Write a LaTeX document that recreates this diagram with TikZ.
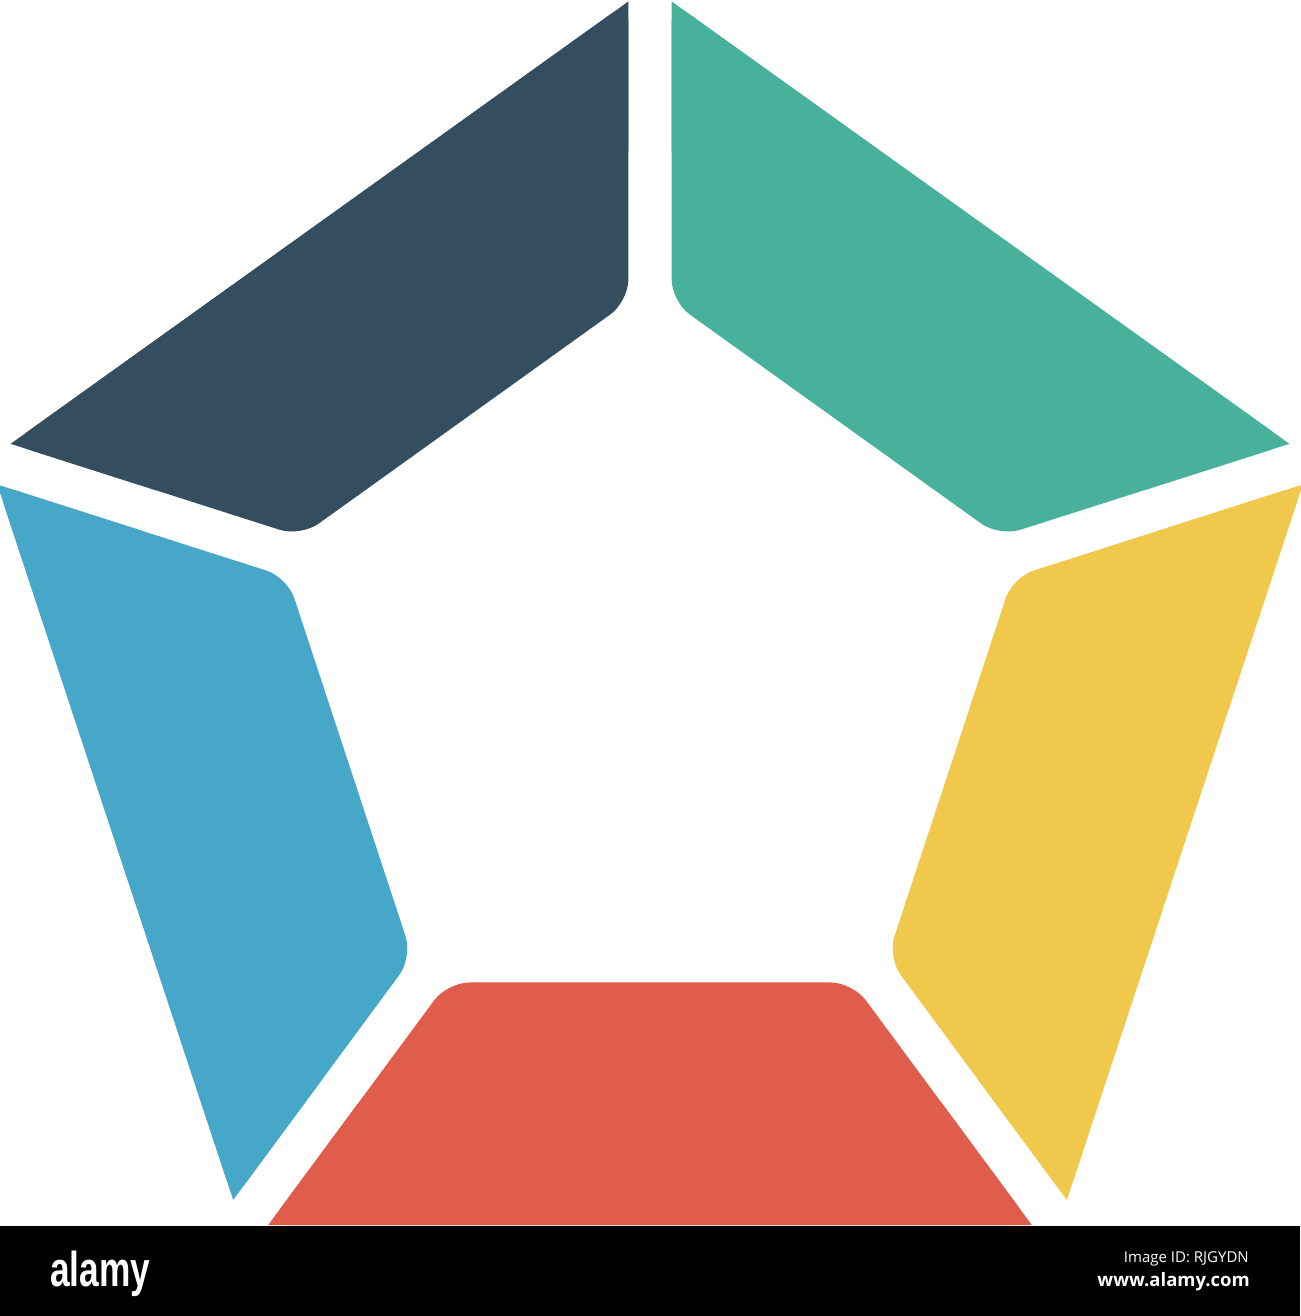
\documentclass[tikz,border=0pt]{standalone}
\usepackage{fontspec}
\setmainfont{Open Sans}
\newfontfamily\logofont{Liberation Sans}
\usetikzlibrary{calc}
\definecolor{slate}{HTML}{344E60}
\definecolor{sea}{HTML}{48B19C}
\definecolor{sky}{HTML}{47A7C9}
\definecolor{sun}{HTML}{F0C94C}
\definecolor{brick}{HTML}{E05C4B}
\newcommand{\cut}{26.6pt}
% one piece of the ring, between vertex #1 and vertex #2
\newcommand{\segment}[3]{\coordinate (oa) at ($(O#1)!\cut!(O#2)$); \coordinate (ob) at ($(O#2)!\cut!(O#1)$);
  \coordinate (ib) at ($(I#2)!\cut!(I#1)$); \coordinate (ia) at ($(I#1)!\cut!(I#2)$);
  \fill[#3,rounded corners=22pt] (oa) -- (ob) -- (ib) -- (ia) -- cycle;
  \fill[#3] (oa) -- (ob) -- ($(ob)!.5!(ib)$) -- ($(oa)!.5!(ia)$) -- cycle;}

\begin{document}
\begin{tikzpicture}[x=1pt,y=1pt]
    \useasboundingbox (0,0) rectangle (1300,1316);
    \coordinate (C) at (650,645);
    \foreach \k in {0,...,4} {\coordinate (O\k) at ($(C)+({695*cos(90+72*\k)},{685*sin(90+72*\k)})$);
      \coordinate (I\k) at ($(C)+({390*cos(90+72*\k)},{385*sin(90+72*\k)})$);}
    \segment{0}{1}{slate} \segment{1}{2}{sky} \segment{2}{3}{brick}
    \segment{3}{4}{sun} \segment{4}{0}{sea}

    \fill[black] (0,0) rectangle (1300,90);
    \node[white,anchor=base west,inner sep=0pt,xscale=0.72] (logo) at (50,29) {\logofont\bfseries\fontsize{49}{49}\selectfont alamy};
    \node[white,anchor=base east,inner sep=0pt] (imgid) at (1249,53) {\fontsize{15}{15}\selectfont Image ID: RJGYDN};
    \node[white,anchor=base east,inner sep=0pt] (site) at (1250,29) {\fontsize{18.5}{18.5}\selectfont\bfseries www.alamy.com};
\end{tikzpicture}
\end{document}
